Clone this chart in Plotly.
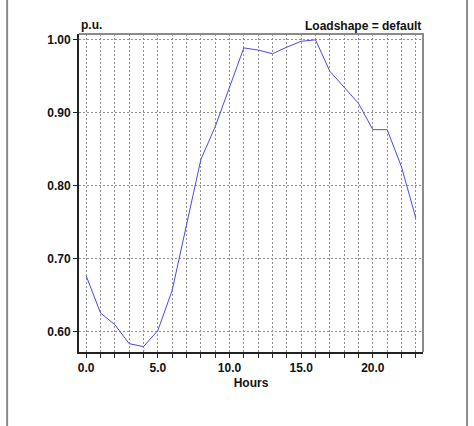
import plotly.graph_objects as go

# Hourly load multipliers
hours = list(range(24))
load_pu = [0.677, 0.626, 0.610, 0.584, 0.580, 0.602, 0.657, 0.745,
           0.836, 0.881, 0.934, 0.989, 0.986, 0.981, 0.990, 0.998,
           1.000, 0.957, 0.935, 0.913, 0.877, 0.877, 0.826, 0.756]

fig = go.Figure()
fig.add_trace(go.Scatter(
    x=hours,
    y=load_pu,
    mode="lines",
    line=dict(color="#4a4ae6", width=1),
    showlegend=False,
))

grid = dict(gridcolor="#8f8f8f", griddash="2px,2px", gridwidth=1)
fig.update_xaxes(
    range=[-0.5, 23.5],
    dtick=5, tick0=0, tickformat=".1f",
    ticks="outside", ticklen=4, tickcolor="#222",
    showline=True, linecolor="#222", linewidth=2,
    showgrid=True, **grid,
    minor=dict(dtick=1, tick0=0, ticks="outside", ticklen=4,
               tickcolor="#222", showgrid=True,
               gridcolor="#8f8f8f", griddash="2px,2px"),
    zeroline=False,
    tickfont=dict(size=12),
    tickprefix="<b>", ticksuffix="</b>",
    title=dict(text="<b>Hours</b>", standoff=4, font=dict(size=12)),
)
fig.update_yaxes(
    range=[0.5726, 1.008],
    dtick=0.1, tick0=0.6, tickformat=".2f",
    ticks="outside", ticklen=4, tickcolor="#222",
    showline=True, linecolor="#222", linewidth=2,
    showgrid=True, **grid,
    zeroline=False,
    tickfont=dict(size=12),
    tickprefix="<b>", ticksuffix="</b>",
)

# grey top/right edges of the plot box
fig.add_shape(type="path", xref="x domain", yref="y domain",
              path="M 0,1 L 1,1 L 1,0",
              line=dict(color="#8a8a8a", width=2), layer="above")

# outer frame of the picture (top and bottom run off the page)
fig.add_shape(type="rect", xref="paper", yref="paper",
              x0=-0.209, x1=1.128, y0=-0.4, y1=1.15,
              line=dict(color="#8c8c8c", width=2))

fig.add_annotation(text="<b>p.u.</b>", xref="paper", yref="paper",
                   x=0, y=1, xanchor="left", yanchor="bottom", yshift=0,
                   showarrow=False, font=dict(size=12, color="#111"))
fig.add_annotation(text="<b>Loadshape = default</b>", xref="paper", yref="paper",
                   x=1, y=1, xanchor="right", yanchor="bottom", yshift=-1,
                   showarrow=False, font=dict(size=12, color="#111"))

fig.update_layout(
    width=474, height=426,
    margin=dict(l=79, r=51, t=34, b=74),
    paper_bgcolor="white", plot_bgcolor="white",
    font=dict(family="Liberation Sans, Arial, sans-serif", size=12, color="#111"),
)

# page has a default 8px body margin; drop it so the figure sits at the corner
fig.write_html("out.html", config={"displayModeBar": False},
               post_script="document.body.style.margin='0';")
